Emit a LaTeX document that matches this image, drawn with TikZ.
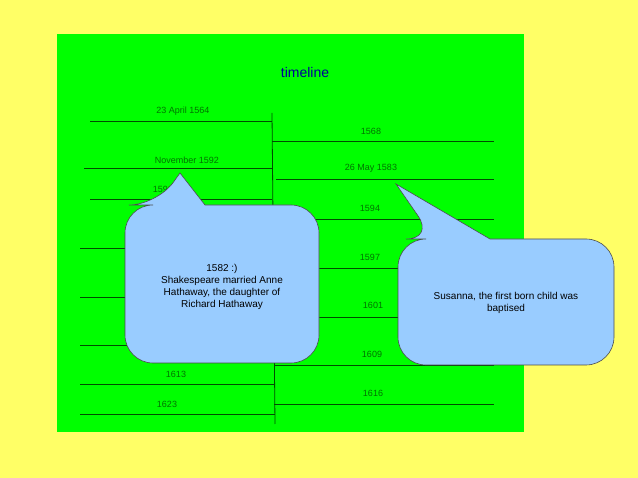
\documentclass[tikz,border=0pt]{standalone}
\usepackage{fontspec}
\setmainfont{Liberation Sans}
\begin{document}
\begin{tikzpicture}[x=1pt,y=-1pt,
  tl/.style={draw=black!70!green, line width=0.8pt},
  lbl/.style={text=black!55!green, font=\fontsize{9}{10}\selectfont, inner sep=0pt},
  bub/.style={fill=cyan!25!blue!30!white, fill=blue!35!cyan!40!white, draw=black!70, line width=0.6pt}]
\definecolor{bg}{HTML}{FFFF66}
\definecolor{gr}{HTML}{00FF00}
\definecolor{bubc}{HTML}{99CCFF}
\useasboundingbox (0,0) rectangle (638,478);
\fill[bg] (0,0) rectangle (638,478);
\fill[gr] (57,34) rectangle (524,432);
\node[text=blue!60!black, font=\fontsize{14}{16}\selectfont] (title) at (305,72) {timeline};
% left
\draw[tl] (90,121) -- (272,121);
\draw[tl] (84,168) -- (272,168);
\draw[tl] (90,199) -- (272,199);
\draw[tl] (80,248) -- (272,248);
\draw[tl] (80,297) -- (272,297);
\draw[tl] (80,345) -- (272,345);
\draw[tl] (80,384) -- (275,384);
\draw[tl] (80,414) -- (275,414);
\draw[tl] (272,113) -- (275,424);
\node[lbl] (l1) at (183,111) {23 April 1564};
\node[lbl] (l2) at (187,160) {November 1592};
\node[lbl] (l3) at (163,189) {1593};
\node[lbl] (l7) at (176,374) {1613};
\node[lbl] (l8) at (167,404) {1623};
% right
\draw[tl] (272,141) -- (494,141);
\draw[tl] (276,179) -- (494,179);
\draw[tl] (274,219) -- (494,219);
\draw[tl] (274,268) -- (494,268);
\draw[tl] (274,317) -- (494,317);
\draw[tl] (274,365) -- (494,365);
\draw[tl] (274,404) -- (494,404);
\node[lbl] (r1) at (371,131) {1568};
\node[lbl] (r2) at (371,168) {26 May 1583};
\node[lbl] (r3) at (370,208) {1594};
\node[lbl] (r4) at (370,257) {1597};
\node[lbl] (r5) at (373,305) {1601};
\node[lbl] (r6) at (372,354) {1609};
\node[lbl] (r7) at (373,393) {1616};
% bubbles
\draw[fill=bubc, draw=black!70, line width=0.6pt] (157,205) -- (180,173) -- (205,205) [rounded corners=28pt] -- (319,205) -- (319,363) -- (125,363) -- (125,205) -- cycle;
\node[align=center, font=\fontsize{10}{12}\selectfont] (b1) at (222,287) {1582 :)\\Shakespeare married Anne\\Hathaway, the daughter of\\Richard Hathaway};
\draw[fill=bubc, draw=black!70, line width=0.6pt] (434,239) -- (396,184) -- (490,239) [rounded corners=28pt] -- (614,239) -- (614,365) -- (398,365) -- (398,239) -- cycle;
\node[align=center, font=\fontsize{10}{12}\selectfont] (b2) at (506,303) {Susanna, the first born child was\\baptised};
\end{tikzpicture}
\end{document}
